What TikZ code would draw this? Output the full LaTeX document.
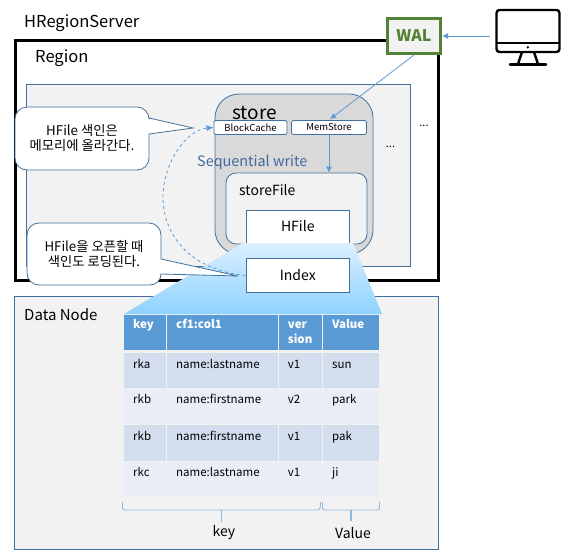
\documentclass[tikz,border=0pt]{standalone}
\usepackage{fontspec}
\setmainfont{Noto Sans CJK KR}
\usetikzlibrary{arrows.meta,calc}
\definecolor{edgeblue}{HTML}{41719C}
\definecolor{arrowblue}{HTML}{5B9BD5}
\definecolor{panel}{HTML}{F2F2F2}
\definecolor{storegray}{HTML}{D9D9D9}
\definecolor{walgreen}{HTML}{548235}
\definecolor{rowa}{HTML}{D2DDEE}
\definecolor{rowb}{HTML}{E9EDF6}
\definecolor{fnltop}{HTML}{DCEFFF}
\definecolor{fnlbot}{HTML}{8DD2FF}
\definecolor{bracec}{HTML}{8FB8DE}
\definecolor{seqtext}{HTML}{44689E}
\newcommand{\sz}[2]{\fontsize{#1}{#2}\selectfont}
\newcommand{\cellrule}{\rule{0pt}{10pt}}
\tikzset{
  panelbox/.style={draw=edgeblue,line width=0.8pt,fill=panel,rectangle,inner sep=0pt},
  whitebox/.style={draw=edgeblue,line width=0.8pt,fill=white,rectangle,inner sep=0pt},
  label/.style={anchor=west,inner sep=0pt,font=\sz{16.5}{20}},
  flow/.style={draw=arrowblue,line width=0.8pt,-{Latex[length=6pt,width=6pt]}},
  callout/.style={draw=edgeblue,line width=0.8pt,fill=white},
  calltext/.style={align=center,inner sep=0pt,font=\sz{13.3}{15}},
  celltext/.style={anchor=north west,inner sep=0pt,align=left,font=\sz{11.5}{15}},
  bracket/.style={draw=bracec,line width=0.9pt,rounded corners=2pt},
}
\begin{document}
\begin{tikzpicture}[x=1pt,y=-1pt]
\useasboundingbox (0,0) rectangle (571,558);
% server
\node[label] (server) at (24,23.5) {HRegionServer};
\draw[black,line width=3pt] (15,40) rectangle (438,280);
\node[label] (region) at (35,58) {Region};
\node[panelbox,minimum width=384pt,minimum height=182pt] (regionbox) at (218.5,175) {};
\node[panelbox,rounded corners=24pt,fill=storegray,minimum width=158pt,minimum height=160pt] (store) at (294,174) {};
\node[anchor=west,inner sep=0pt,font=\sz{19}{22}] (storelabel) at (232,113.5) {store};
\node[whitebox,rounded corners=2pt,minimum width=73pt,minimum height=14pt,font=\sz{9.5}{11}] (blockcache) at (250.5,127.5) {BlockCache};
\node[whitebox,rounded corners=2pt,minimum width=75pt,minimum height=14pt,font=\sz{9.5}{11}] (memstore) at (329,127.5) {MemStore};
\node[label,text=seqtext,font=\sz{14.4}{17}] (seq) at (197,162.5) {Sequential write};
\node[panelbox,rounded corners=10pt,minimum width=141pt,minimum height=71pt] (storefile) at (296.5,208.5) {};
\node[label,font=\sz{14}{17}] (sflabel) at (239,190.5) {storeFile};
\node[whitebox,minimum width=103.5pt,minimum height=33pt,font=\sz{14}{17}] (hfile) at (297.8,226.5) {HFile};
\node[inner sep=0pt,font=\sz{11}{13}] (dots1) at (424,126) {...};
\node[inner sep=0pt,font=\sz{11}{13}] (dots2) at (390.5,147) {...};
% data node
\node[panelbox,minimum width=424pt,minimum height=253pt] (datanode) at (226,422.5) {};
\node[label,font=\sz{15}{18}] (dnlabel) at (24,315) {Data Node};
% funnel
\shade[top color=fnltop,bottom color=fnlbot] (124,314) -- (243,243) -- (353,243) -- (382,314) -- cycle;
\node[whitebox,minimum width=103.5pt,minimum height=34pt,font=\sz{14}{17}] (index) at (297.8,275.5) {Index};
% dashed arc
\draw[draw=arrowblue,line width=0.8pt,dashed,-{Latex[length=7pt,width=6pt]}] (index.west) .. controls (190,270) and (163,235) .. (163,197) .. controls (163,165) and (185,130) .. (blockcache.west);
% callouts
\coordinate (tipa) at (193,128);
\coordinate (tipb) at (238,276);
\draw[callout] (27,107) -- (137,107) arc (-90:0:12) -- (149,118) -- (tipa) -- (149,134) -- (149,158) arc (0:90:12) -- (27,170) arc (90:180:12) -- (15,119) arc (180:270:12) -- cycle;
\node[calltext] (calla) at (82,138) {HFile 색인은\\메모리에 올라간다.};
\draw[callout] (39,223) -- (149,223) arc (-90:0:12) -- (161,259) -- (tipb) -- (161,274) arc (0:90:11) -- (39,285) arc (90:180:12) -- (27,235) arc (180:270:12) -- cycle;
\node[calltext] (callb) at (94,254) {HFile을 오픈할 때\\색인도 로딩된다.};
% WAL
\node[draw=walgreen,line width=3pt,fill=panel,rectangle,inner sep=0pt,minimum width=53pt,minimum height=35pt,text=walgreen,font=\sz{16}{19}\bfseries] (wal) at (414,36) {WAL};
% monitor
\coordinate (monitor) at (490,36);
\draw[black,line width=2.4pt,rounded corners=3pt] (496.5,10) rectangle (559.5,52);
\draw[black,line width=2.4pt] (496.5,43) -- (559.5,43);
\fill[black] (527.8,47.3) circle (1.3);
\draw[black,line width=2.4pt,line join=round] (522,52) -- (518,64) (534,52) -- (538,64);
\draw[black,line width=2.4pt,line cap=round] (510,64.3) -- (546,64.3);
% arrows
\draw[flow] (monitor) -- (wal.east);
\draw[flow] (wal.south) -- ($(memstore.north)+(1,-1)$);
\draw[flow] (memstore.south) -- (memstore.south |- storefile.north);
% table
\foreach \xa/\xb/\txt [count=\i] in {124/166.2/key,167/277.7/cf1:col1,278.7/322/{ver\\sion},323/379/Value}{
  \fill[arrowblue] (\xa,315) rectangle (\xb,350);
  \node[celltext,text=white,font=\sz{11.5}{15}\bfseries] (h\i) at (\xa+9,318) {\cellrule\txt};
}
\foreach \ya/\yb/\fillc/\r/\a/\b/\c/\d in {
  353/387.5/rowa/1/rka/name:lastname/v1/sun,
  388.7/424/rowb/2/rkb/name:firstname/v2/park,
  425.2/460.7/rowa/3/rkb/name:firstname/v1/pak,
  461.7/497/rowb/4/rkc/name:lastname/v1/ji}{
  \fill[\fillc] (124,\ya) rectangle (166.2,\yb);
  \fill[\fillc] (167,\ya) rectangle (277.7,\yb);
  \fill[\fillc] (278.7,\ya) rectangle (322,\yb);
  \fill[\fillc] (323,\ya) rectangle (379,\yb);
  \node[celltext] (r\r a) at (133,\ya+5) {\cellrule\a};
  \node[celltext] (r\r b) at (176,\ya+5) {\cellrule\b};
  \node[celltext] (r\r c) at (287.7,\ya+5) {\cellrule\c};
  \node[celltext] (r\r d) at (332,\ya+5) {\cellrule\d};
}
% braces
\draw[bracket] (122.5,502) -- (122.5,510) -- (320,510) -- (320.5,502);
\draw[draw=bracec,line width=0.9pt] (221.5,510) -- (221.5,522);
\draw[bracket] (322.5,502) -- (322.5,510) -- (379.5,510) -- (379.5,502);
\draw[draw=bracec,line width=1.2pt] (351,510) -- (351,521);
\node[inner sep=0pt,font=\sz{14}{17}] (keylabel) at (224,533) {key};
\node[inner sep=0pt,font=\sz{14}{17}] (vallabel) at (353,533) {Value};
\end{tikzpicture}
\end{document}
